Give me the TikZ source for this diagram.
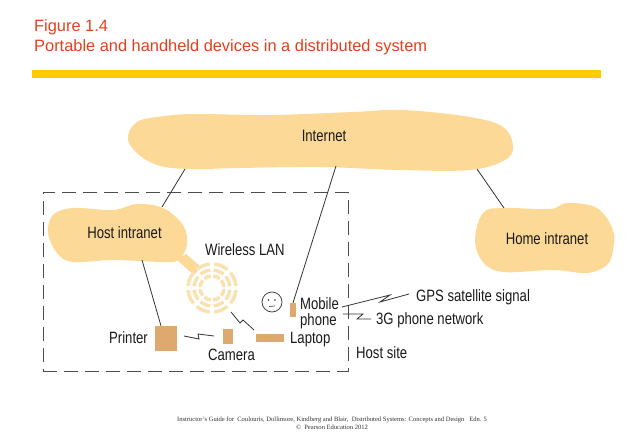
\documentclass[tikz,border=0pt]{standalone}
\usepackage{fontspec}
\setmainfont{Liberation Sans}
\newfontfamily\labelfont[FakeStretch=0.8]{Liberation Sans}
\newfontfamily\footfont{Liberation Serif}
\usetikzlibrary{positioning}
\definecolor{cloudcol}{HTML}{FDD998}
\definecolor{devcol}{HTML}{DDA96E}
\definecolor{wavecol}{HTML}{F9E2B0}
\definecolor{titlecol}{HTML}{E2401C}
\definecolor{barcol}{HTML}{FFCC00}
\definecolor{linecol}{HTML}{333333}

\begin{document}
\begin{tikzpicture}[x=1pt,y=-1pt,
  lbl/.style={font=\labelfont\fontsize{16.4}{18}\selectfont,text=black!90,inner sep=0pt,align=left},
  device/.style={fill=devcol,inner sep=0pt},
  link/.style={linecol,line width=0.8pt}]
\useasboundingbox (0,0) rectangle (638,442);
% heading
\node[font=\fontsize{16.4}{20}\selectfont,text=titlecol,align=left,anchor=north west,inner sep=0pt] (title) at (34,19.5) {Figure 1.4\\Portable and handheld devices in a distributed system};
\node[fill=barcol,minimum width=569pt,minimum height=8pt,inner sep=0pt,anchor=west] (bar) at (32,73.5) {};
% clouds
\fill[fill=cloudcol] plot[smooth cycle,tension=0.6] coordinates {(128,140) (137,122) (165,116) (197,114) (270,115) (353,112) (403,110) (470,117) (503,127) (513,146) (505,160) (470,170) (400,170) (320,167) (240,168) (197,169) (165,167) (143,158)};
\fill[fill=cloudcol] plot[smooth cycle,tension=0.6] coordinates {(48,233) (53,215) (73,208) (113,210) (137,204) (163,208) (183,225) (187,245) (178,260) (163,262) (113,260) (73,262) (57,253)};
\fill[fill=cloudcol] (176,259) -- (186,254) -- (201,267) -- (194,275) -- cycle;
\fill[fill=cloudcol] plot[smooth cycle,tension=0.6] coordinates {(475,240) (483,213) (503,208) (550,209) (567,203) (597,208) (613,230) (613,250) (607,265) (587,273) (553,270) (503,272) (483,262)};
\node[lbl] (inet) at (324,136) {Internet};
\node[lbl] (host) at (124.5,233) {Host intranet};
\node[lbl] (home) at (547,239) {Home intranet};
% cloud edges
\coordinate (inetA) at (185,169);
\coordinate (inetB) at (336,166);
\coordinate (inetC) at (477,169);
\coordinate (hostN) at (162,207);
\coordinate (hostS) at (142,260);
\coordinate (homeN) at (504,208);
% host site
\node[draw=black!70,dash pattern=on 14pt off 7pt,line width=0.8pt,minimum width=305pt,minimum height=179pt,inner sep=0pt,anchor=north west] (site) at (43,192) {};
% wireless
\coordinate (wlan) at (212,288);
\foreach \a in {0,45,...,315}
  \foreach \r in {12,18,24}
    \draw[wavecol,line width=3.4pt] (wlan) ++(\a+5:\r) arc[start angle=\a+5,end angle=\a+40,radius=\r];
% devices
\node[device,minimum width=22pt,minimum height=25pt] (printer) at (166,338.5) {};
\node[device,minimum width=10pt,minimum height=15pt] (camera) at (228,336.5) {};
\node[device,minimum width=28pt,minimum height=8pt] (laptop) at (270,338) {};
\node[device,minimum width=6pt,minimum height=14pt] (mobile) at (293,310) {};
% smiley
\node[draw=linecol,circle,line width=0.7pt,minimum size=20pt,inner sep=0pt] (face) at (272,302) {};
\fill[linecol] (268.5,300) circle (0.9pt) (275,300) circle (0.9pt);
\draw[linecol,line width=0.6pt] (269,306.5) -- (275,306);
% labels
\node[lbl,anchor=west] (wl) at (205,250) {Wireless LAN};
\node[lbl,anchor=west] (pr) at (109,338) {Printer};
\node[lbl,anchor=west] (ca) at (208,355) {Camera};
\node[lbl,anchor=west] (la) at (290,340) {Laptop};
\node[lbl,anchor=west] (mo) at (300,304) {Mobile};
\node[lbl,anchor=west] (ph) at (300,321.5) {phone};
\node[lbl,anchor=west] (gps) at (416,297) {GPS satellite signal};
\node[lbl,anchor=west] (tg) at (376,320) {3G phone network};
\node[lbl,anchor=west] (hs) at (356,353) {Host site};
% connectors
\draw[link] (inetA) -- (hostN);
\draw[link] (inetB) -- (mobile.north);
\draw[link] (inetC) -- (homeN);
\draw[link] (hostS) -- ([xshift=-5pt]printer.north);
% radio links
\coordinate (zpr) at (184,336);
\coordinate (zca) at (214,336);
\coordinate (zwl) at (231,312);
\coordinate (zla) at (254,330);
\coordinate (zmo) at (342,307);
\coordinate (zgp) at (409,294);
\coordinate (zph) at (343,314);
\coordinate (ztg) at (371,319);
\draw[link] (zpr) -- (199,339) -- (198,334) -- (zca);
\draw[link] (zwl) -- (240,323) -- (243,320) -- (zla);
\draw[link] (zmo) -- (390,295) -- (380,302) -- (zgp);
\draw[link] (zph) -- (363,314) -- (357,319) -- (ztg);
% footer
\node[font=\footfont\fontsize{6.55}{8.5}\selectfont,align=center,inner sep=0pt,text=black!80] (foot) at (332,423) {Instructor’s Guide for\enspace Coulouris, Dollimore, Kindberg and Blair,\enspace Distributed Systems: Concepts and Design\enspace\ Edn. 5\\\textcopyright\enspace Pearson Education 2012};
\end{tikzpicture}
\end{document}
